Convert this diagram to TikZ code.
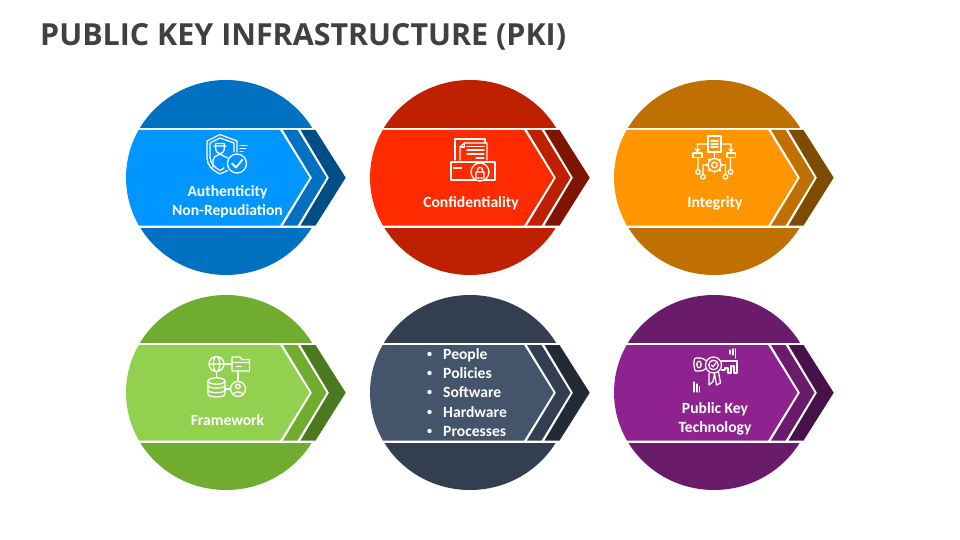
\documentclass[tikz,border=0pt]{standalone}
\usepackage{fontspec}
\setmainfont{Carlito}
\newfontfamily\titlefont{Open Sans}
\definecolor{capA}{HTML}{0070C0}\definecolor{lightA}{HTML}{0096FF}\definecolor{darkA}{HTML}{004E86}
\definecolor{capB}{HTML}{BF2000}\definecolor{lightB}{HTML}{FF2B00}\definecolor{darkB}{HTML}{7F1500}
\definecolor{capC}{HTML}{BF7000}\definecolor{lightC}{HTML}{FF9600}\definecolor{darkC}{HTML}{7F4B00}
\definecolor{capD}{HTML}{6FAC2F}\definecolor{lightD}{HTML}{92D050}\definecolor{darkD}{HTML}{4A7A20}
\definecolor{capE}{HTML}{333F50}\definecolor{lightE}{HTML}{44546A}\definecolor{darkE}{HTML}{222A35}
\definecolor{capF}{HTML}{6A1B6C}\definecolor{lightF}{HTML}{8E2390}\definecolor{darkF}{HTML}{47124A}
\definecolor{titlegray}{HTML}{404040}
\tikzset{
  ico/.style={draw=white,line width=1.3pt,line join=round,line cap=round},
  lab/.style={text=white,font=\fontsize{15.6}{19.2}\selectfont\bfseries,align=center,inner sep=0pt},
  bul/.style={text=white,font=\fontsize{15.6}{19.2}\selectfont\bfseries,anchor=west,inner sep=0pt},
  title/.style={text=titlegray,font=\fontsize{30.4}{36}\selectfont\titlefont\bfseries,anchor=west,inner sep=0pt}
}
\newcommand{\pkicard}[3]{%
 \begin{scope}[shift={(#1,#2)}]
  \begin{scope}
   \clip (226,177.5) ellipse [x radius=100,y radius=97.5];
   \fill[cap#3] (100,70) rectangle (320,127.6);
   \fill[cap#3] (100,227.6) rectangle (320,290);
   \fill[light#3] (100,130) -- (280,130) -- (309.5,177.7) -- (280,225.6) -- (100,225.6) -- cycle;
  \end{scope}
  \fill[cap#3] (283,130) -- (297.5,130) -- (326.5,177.7) -- (297.5,225.6) -- (283,225.6) -- (312,177.7) -- cycle;
  \fill[dark#3] (300.5,130) -- (315.5,130) -- (345.7,177.7) -- (315.5,225.6) -- (300.5,225.6) -- (329,177.7) -- cycle;
 \end{scope}}
\begin{document}
\begin{tikzpicture}[x=1pt,y=-1pt]
\useasboundingbox (0,0) rectangle (960,540);
\fill[white] (0,0) rectangle (960,540);
\node[title] (heading) at (40,36.5) {PUBLIC KEY INFRASTRUCTURE (PKI)};
\pkicard{0}{0}{A}
\pkicard{244}{0}{B}
\pkicard{488}{0}{C}
\pkicard{0}{215}{D}
\pkicard{244}{215}{E}
\pkicard{488}{215}{F}
% labels
\node[lab] (auth) at (227.5,201.5) {Authenticity\\Non-Repudiation};
\node[lab] (conf) at (471,203) {Confidentiality};
\node[lab] (integ) at (715,203) {Integrity};
\node[lab] (frame) at (227.5,420) {Framework};
\node[lab] (pubkey) at (715,419) {Public Key\\Technology};
\node[bul] (b1) at (443,355) {People};
\node[bul] (b2) at (443,373) {Policies};
\node[bul] (b3) at (443,392) {Software};
\node[bul] (b4) at (443,412) {Hardware};
\node[bul] (b5) at (443,431) {Processes};
\foreach \yy in {354,373,392,412,431} \fill[white] (429.5,\yy) circle (2.2);
% icon: shield
\draw[ico] (227.5,170.5) -- (220,174) .. controls (212,170) and (207,165) .. (207,158) -- (207,141) -- (220,134.5) -- (237,141) -- (237,152);
\draw[ico] (224,168) -- (220,170.5) .. controls (214,167) and (210,163) .. (210,157) -- (210,143) -- (220,138) -- (234,143) -- (234,152);
\draw[ico] (214,146) -- (226,146) (215,146) -- (216,143.5) -- (224,143.5) -- (225,146)
 (215.5,147) .. controls (215.5,156) and (224.5,156) .. (224.5,147);
\draw[ico] (213,167) -- (213,160) .. controls (213,157) and (216,156) .. (219,154.5) -- (221,154.5) .. controls (223,156) and (226,157) .. (228,158);
\draw[ico] (237,163.5) circle (9.5);
\draw[ico,line width=1.8pt] (232,163.5) -- (236,167.5) -- (242.5,159.5);
\draw[ico] (240,145.5) -- (247,145.5) (240,148.5) -- (245.5,148.5) (240,151.5) -- (243,151.5);
% icon: document box
\draw[ico] (455,160) -- (455,139) -- (485,139) -- (485,143);
\draw[ico] (460,160) -- (460,147) -- (464.5,143) -- (487,143) -- (487,160);
\draw[ico] (460,147) -- (464.5,147) -- (464.5,143);
\draw[ico] (467,146.5) -- (484,146.5) (467,150) -- (484,150) (467,154) -- (484,154) (476,158) -- (484,158);
\draw[ico] (451,180) -- (451,162) -- (495,162) -- (495,180) -- (451,180);
\draw[ico] (453.5,168) -- (461.5,168);
\draw[ico,fill=lightB] (480,172) circle (9);
\draw[ico] (476,172) rectangle (484,178) (477.5,172) -- (477.5,170) .. controls (477.5,166.5) and (482.5,166.5) .. (482.5,170) -- (482.5,172);
% icon: integrity
\draw[ico] (708,152) -- (708,136) -- (721,136) -- (721,152) -- cycle;
\draw[ico] (711,141) -- (718,141) (711,144) -- (718,144) (711,147) -- (718,147);
\draw[ico] (708,144) -- (697.5,144) -- (697.5,151) (695.5,149) -- (697.5,151.5) -- (699.5,149);
\draw[ico] (721,144) -- (731,144) -- (731,151) (729,149) -- (731,151.5) -- (733,149);
\draw[ico] (693,153) rectangle (702,157.5) (727,153) rectangle (735.5,157.5);
\draw[ico] (714.5,152) -- (714.5,158);
\draw[ico] (714.5,165) circle (6.5) (714.5,165) circle (2.8);
\foreach \a in {0,45,...,315} \draw[ico,line width=1.8pt] (714.5,165) ++(\a:6.5) -- ++(\a:1.5);
\draw[ico] (698,157.5) -- (698,169.5) (698,172) circle (2.3);
\draw[ico] (707,165) -- (703,165) -- (703,174.5) (703,176.8) circle (2.3);
\draw[ico] (722,165) -- (725.5,165) -- (725.5,174.5) (725.5,176.8) circle (2.3);
\draw[ico] (730.5,157.5) -- (730.5,169.5) (730.5,172) circle (2.3);
% icon: framework
\draw[ico] (216.5,364) circle (7.5) (216.5,364) ellipse [x radius=3.2,y radius=7.5] (209,364) -- (224,364);
\draw[ico] (224,364) -- (232,364);
\draw[ico] (232,371) -- (232,357) -- (240,357) -- (242,359.5) -- (249.5,359.5) -- (249.5,371) -- cycle (232,362.5) -- (249.5,362.5) (236,366.5) -- (241,366.5);
\draw[ico] (216.5,371.5) -- (216.5,377.5) (238,371) -- (238,381.5) (224.5,389) -- (230.5,389);
\draw[ico] (216.5,381) ellipse [x radius=8.5,y radius=3.2];
\draw[ico] (208,381) -- (208,394) .. controls (208,398) and (225,398) .. (225,394) -- (225,381);
\draw[ico] (208,385.5) .. controls (208,389) and (225,389) .. (225,385.5) (208,390) .. controls (208,393.5) and (225,393.5) .. (225,390);
\draw[ico] (238,389) circle (7.5) (238,386.5) circle (2.3);
\draw[ico] (233,394.5) .. controls (233.5,391) and (242.5,391) .. (243,394.5);
% icon: key
\draw[ico] (706,360.5) .. controls (704,358.5) and (702,358) .. (699,358) -- (696,358) .. controls (692.5,358) and (694,371) .. (696,371) -- (699,371) .. controls (702,371) and (704,370.5) .. (706,368.5);
\draw[ico] (699,364.5) ellipse [x radius=2.2,y radius=3.3];
\draw[ico] (713.5,365) circle (8) (713.5,365) circle (4.8);
\draw[ico] (711.3,365) -- (713,366.8) -- (715.8,363);
\draw[ico] (709,373) -- (709,385) -- (713,381.5) -- (714.5,373.5) (714.5,373.5) -- (716.5,385) -- (720.5,383) -- (718.5,372);
\draw[ico] (721.5,361) -- (737,361) -- (737,373) -- (734,373) -- (734,366) -- (731,366) -- (731,373) -- (728,373) -- (728,368) -- (725,368) -- (725,370) -- (721.5,370);
\draw[ico] (730,350) -- (730,354) (733,349) -- (733,355) (735.5,349) -- (735.5,358);
\draw[ico] (694,382) -- (694,392) (697,384) -- (697,392) (699.5,387) -- (699.5,392);
\end{tikzpicture}
\end{document}
